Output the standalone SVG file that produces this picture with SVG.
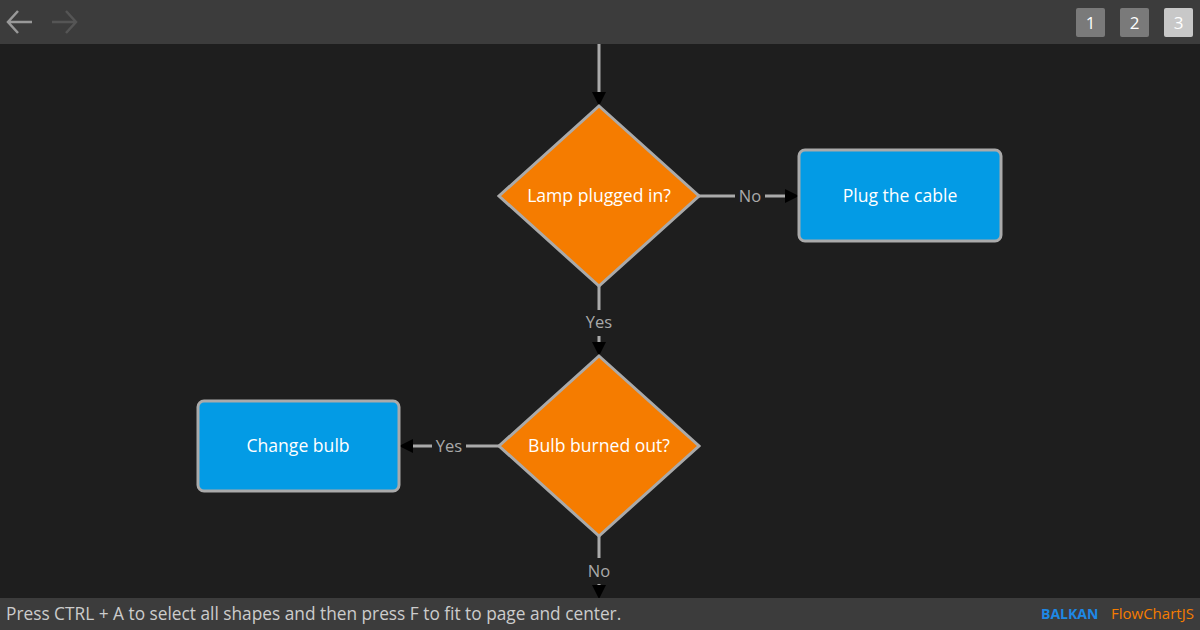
<svg xmlns="http://www.w3.org/2000/svg" width="1200" height="630" viewBox="0 0 1200 630">
<defs>
<style>
text{font-family:"Segoe UI","Open Sans","Noto Sans",sans-serif}
.dia{fill:#f57c00;stroke:#aaa;stroke-width:3}
.box{fill:#039be5;stroke:#aaa;stroke-width:3}
.nt{fill:#fff;font-size:17.6px;text-anchor:middle}
.ln{stroke:#aaa;stroke-width:3;fill:none}
.lbl{fill:#aaa;font-size:16.5px;text-anchor:middle}
.lb{fill:#1e1e1e}
.ah{fill:#000}
</style>
</defs>
<rect width="1200" height="630" fill="#1e1e1e"/>
<g id="connectors">
<line class="ln" x1="599" y1="44" x2="599" y2="92"/><path class="ah" d="M592 92L606 92L599 106Z"/>
<line class="ln" x1="699" y1="196" x2="785" y2="196"/><rect class="lb" x="735" y="184" width="30" height="24"/><text class="lbl" x="750" y="202">No</text><path class="ah" d="M785 189L799 196L785 203Z"/>
<line class="ln" x1="599" y1="286" x2="599" y2="342"/><rect class="lb" x="582" y="310" width="34" height="26"/><text class="lbl" x="599" y="328">Yes</text><path class="ah" d="M592 342L606 342L599 356Z"/>
<line class="ln" x1="499" y1="446" x2="413" y2="446"/><rect class="lb" x="432" y="434" width="34" height="24"/><text class="lbl" x="449" y="452">Yes</text><path class="ah" d="M413 439L399 446L413 453Z"/>
<line class="ln" x1="599" y1="536" x2="599" y2="585"/><rect class="lb" x="584" y="558" width="30" height="26"/><text class="lbl" x="599" y="577">No</text><path class="ah" d="M592 585L606 585L599 599Z"/>
</g>
<g id="lamp"><path class="dia" d="M599 106L699 196L599 286L499 196Z"/><text class="nt" x="599" y="202">Lamp plugged in?</text></g>
<g id="plug"><rect class="box" x="799" y="150" width="202" height="91" rx="6"/><text class="nt" x="900" y="202">Plug the cable</text></g>
<g id="bulb"><path class="dia" d="M599 356L699 446L599 536L499 446Z"/><text class="nt" x="599" y="452">Bulb burned out?</text></g>
<g id="change"><rect class="box" x="198" y="401" width="201" height="90" rx="6"/><text class="nt" x="298" y="452">Change bulb</text></g>
<g id="topbar">
<rect width="1200" height="44" fill="#3c3c3c"/>
<path d="M32 22H8M18 11L8 22L18 33" stroke="#999" stroke-width="2.5" fill="none"/>
<path d="M52 22H76M66 11L76 22L66 33" stroke="#555" stroke-width="2.5" fill="none"/>
<rect x="1076" y="8" width="29" height="29" rx="2" fill="#7a7a7a"/><text x="1090.5" y="29" fill="#fff" font-size="17" text-anchor="middle">1</text>
<rect x="1120" y="8" width="29" height="29" rx="2" fill="#7a7a7a"/><text x="1134.5" y="29" fill="#fff" font-size="17" text-anchor="middle">2</text>
<rect x="1164" y="8" width="29" height="29" rx="2" fill="#c8c8c8"/><text x="1178.5" y="29" fill="#fff" font-size="17" text-anchor="middle">3</text>
</g>
<g id="bottombar">
<rect y="598" width="1200" height="32" fill="#3c3c3c"/>
<text x="6" y="620" fill="#ccc" font-size="17.3">Press CTRL + A to select all shapes and then press F to fit to page and center.</text>
<text x="1041" y="619" fill="#1e88e5" font-size="14" font-weight="bold">BALKAN</text>
<text x="1111" y="619" fill="#f57c00" font-size="15">FlowChartJS</text>
</g>
</svg>
